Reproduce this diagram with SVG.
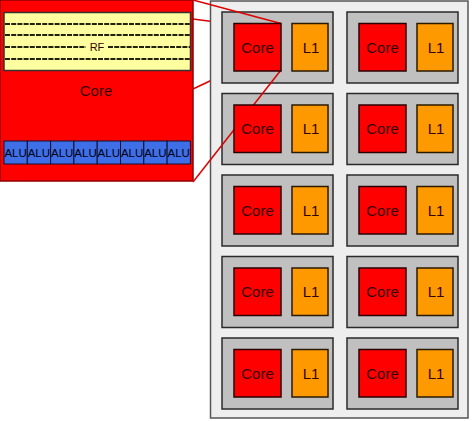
<svg xmlns="http://www.w3.org/2000/svg" width="474" height="421" viewBox="0 0 474 421">
<defs>
<style>
.t{font-family:"Liberation Sans",Arial,sans-serif;fill:#300;text-anchor:middle}
.n{font-size:15px}
.tile{fill:#c0c0c0;stroke:#2a2a2a;stroke-width:1.5}
.core{fill:#ff0000;stroke:#2a0000;stroke-width:1.5}
.l1{fill:#ff9900;stroke:#2a1a00;stroke-width:1.5}
.alu{fill:#3f6fe6;stroke:#101030;stroke-width:1}
.dash{stroke:#222210;stroke-width:2;stroke-dasharray:5 1.2}
.conn{stroke:#dd0000;stroke-width:1.5;fill:none}
</style>
</defs>
<rect width="474" height="421" fill="#ffffff"/>
<g id="connectors-back">
<line class="conn" x1="193" y1="19" x2="212" y2="21.5"/>
<line class="conn" x1="193" y1="89" x2="212" y2="80"/>
</g>
<g id="chip">
<rect x="210.5" y="1" width="257.5" height="417" fill="#eeeeee" stroke="#555" stroke-width="1.5"/>
</g>
<g id="detail">
<rect x="0" y="0" width="193" height="181" fill="#ff0000" stroke="#900000" stroke-width="1.5"/>
<rect x="4" y="12.5" width="186.5" height="58" fill="#ffffa0" stroke="#333" stroke-width="1.5"/>
<line class="dash" x1="5" y1="24" x2="190" y2="24"/>
<line class="dash" x1="5" y1="35" x2="190" y2="35"/>
<line class="dash" x1="5" y1="47" x2="86" y2="47"/>
<line class="dash" x1="108" y1="47" x2="190" y2="47"/>
<line class="dash" x1="5" y1="59" x2="190" y2="59"/>
<text class="t" x="97" y="51" font-size="11">RF</text>
<text class="t n" x="96" y="95.5">Core</text>
<g font-size="11.5">
<rect class="alu" x="4" y="141" width="23.3" height="23"/>
<rect class="alu" x="27.3" y="141" width="23.3" height="23"/>
<rect class="alu" x="50.6" y="141" width="23.3" height="23"/>
<rect class="alu" x="73.9" y="141" width="23.3" height="23"/>
<rect class="alu" x="97.2" y="141" width="23.3" height="23"/>
<rect class="alu" x="120.5" y="141" width="23.3" height="23"/>
<rect class="alu" x="143.8" y="141" width="23.3" height="23"/>
<rect class="alu" x="167.1" y="141" width="23.3" height="23"/>
<text class="t" x="15.6" y="156.5" style="fill:#001">ALU</text>
<text class="t" x="38.9" y="156.5" style="fill:#001">ALU</text>
<text class="t" x="62.2" y="156.5" style="fill:#001">ALU</text>
<text class="t" x="85.5" y="156.5" style="fill:#001">ALU</text>
<text class="t" x="108.8" y="156.5" style="fill:#001">ALU</text>
<text class="t" x="132.1" y="156.5" style="fill:#001">ALU</text>
<text class="t" x="155.4" y="156.5" style="fill:#001">ALU</text>
<text class="t" x="178.7" y="156.5" style="fill:#001">ALU</text>
</g>
</g>
<g id="tiles">
<rect class="tile" x="222" y="12" width="111" height="71"/>
<rect class="tile" x="347" y="12" width="111" height="71"/>
<rect class="tile" x="222" y="93.5" width="111" height="71"/>
<rect class="tile" x="347" y="93.5" width="111" height="71"/>
<rect class="tile" x="222" y="175" width="111" height="71"/>
<rect class="tile" x="347" y="175" width="111" height="71"/>
<rect class="tile" x="222" y="256.5" width="111" height="71"/>
<rect class="tile" x="347" y="256.5" width="111" height="71"/>
<rect class="tile" x="222" y="338" width="111" height="71"/>
<rect class="tile" x="347" y="338" width="111" height="71"/>
</g>
<g id="connectors">
<line class="conn" x1="193" y1="0" x2="281" y2="23.5"/>
<line class="conn" x1="193" y1="182" x2="281" y2="70"/>
</g>
<g id="n-r1c1"><rect class="core" x="234" y="23.5" width="47" height="47.5"/><rect class="l1" x="292" y="23.5" width="36" height="47.5"/><text class="t n" x="257.5" y="52.5">Core</text><text class="t n" x="311" y="52.5">L1</text></g>
<g id="n-r1c2"><rect class="core" x="359" y="23.5" width="47" height="47.5"/><rect class="l1" x="417" y="23.5" width="36" height="47.5"/><text class="t n" x="382.5" y="52.5">Core</text><text class="t n" x="436" y="52.5">L1</text></g>
<g id="n-r2c1"><rect class="core" x="234" y="105" width="47" height="47.5"/><rect class="l1" x="292" y="105" width="36" height="47.5"/><text class="t n" x="257.5" y="134">Core</text><text class="t n" x="311" y="134">L1</text></g>
<g id="n-r2c2"><rect class="core" x="359" y="105" width="47" height="47.5"/><rect class="l1" x="417" y="105" width="36" height="47.5"/><text class="t n" x="382.5" y="134">Core</text><text class="t n" x="436" y="134">L1</text></g>
<g id="n-r3c1"><rect class="core" x="234" y="186.5" width="47" height="47.5"/><rect class="l1" x="292" y="186.5" width="36" height="47.5"/><text class="t n" x="257.5" y="215.5">Core</text><text class="t n" x="311" y="215.5">L1</text></g>
<g id="n-r3c2"><rect class="core" x="359" y="186.5" width="47" height="47.5"/><rect class="l1" x="417" y="186.5" width="36" height="47.5"/><text class="t n" x="382.5" y="215.5">Core</text><text class="t n" x="436" y="215.5">L1</text></g>
<g id="n-r4c1"><rect class="core" x="234" y="268" width="47" height="47.5"/><rect class="l1" x="292" y="268" width="36" height="47.5"/><text class="t n" x="257.5" y="297">Core</text><text class="t n" x="311" y="297">L1</text></g>
<g id="n-r4c2"><rect class="core" x="359" y="268" width="47" height="47.5"/><rect class="l1" x="417" y="268" width="36" height="47.5"/><text class="t n" x="382.5" y="297">Core</text><text class="t n" x="436" y="297">L1</text></g>
<g id="n-r5c1"><rect class="core" x="234" y="349.5" width="47" height="47.5"/><rect class="l1" x="292" y="349.5" width="36" height="47.5"/><text class="t n" x="257.5" y="378.5">Core</text><text class="t n" x="311" y="378.5">L1</text></g>
<g id="n-r5c2"><rect class="core" x="359" y="349.5" width="47" height="47.5"/><rect class="l1" x="417" y="349.5" width="36" height="47.5"/><text class="t n" x="382.5" y="378.5">Core</text><text class="t n" x="436" y="378.5">L1</text></g>
</svg>
